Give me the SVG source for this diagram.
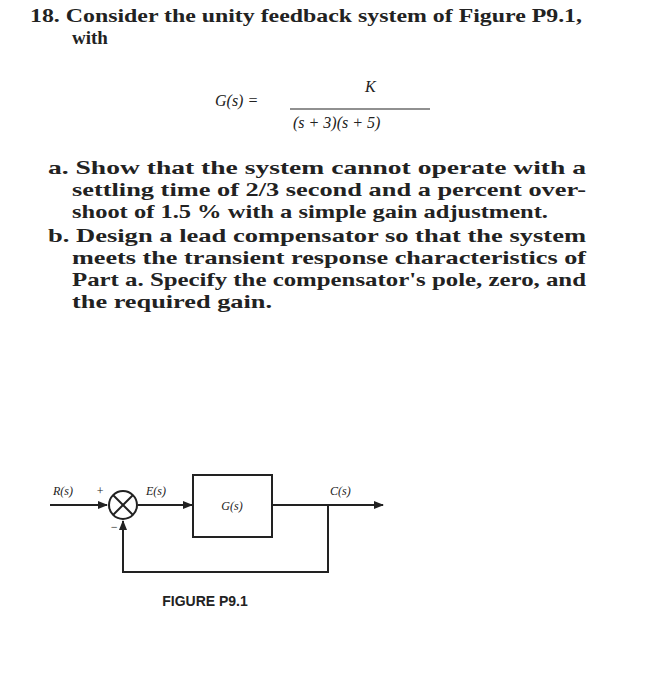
<svg xmlns="http://www.w3.org/2000/svg" width="648" height="700" viewBox="0 0 648 700">
<style>
.t{font-family:"Liberation Serif",serif;font-size:19px;font-weight:bold;fill:#222}
.m{font-family:"Liberation Serif",serif;font-size:16px;font-style:italic;fill:#222}
.s{font-family:"Liberation Serif",serif;font-size:12px;font-style:italic;fill:#222}
.ln{stroke:#222;stroke-width:2;fill:none}
</style>
<defs><marker id="a" markerWidth="10" markerHeight="8" refX="9" refY="4" orient="auto" markerUnits="userSpaceOnUse"><path d="M0,0L10,4L0,8z" fill="#222"/></marker></defs>
<rect width="648" height="700" fill="#fff"/>
<text class="t" x="30" y="22" textLength="552" lengthAdjust="spacingAndGlyphs">18. Consider the unity feedback system of Figure P9.1,</text>
<text class="t" x="72" y="44">with</text>
<text class="m" x="215" y="106">G(s) =</text>
<text class="m" x="365" y="92">K</text>
<line x1="290" y1="109" x2="430" y2="109" stroke="#222" stroke-width="1.2"/>
<text class="m" x="293" y="128">(s + 3)(s + 5)</text>
<g class="t">
<text x="48" y="174" textLength="538" lengthAdjust="spacingAndGlyphs">a. Show that the system cannot operate with a</text>
<text x="72" y="196" textLength="514" lengthAdjust="spacingAndGlyphs">settling time of 2/3 second and a percent over-</text>
<text x="72" y="218" textLength="476" lengthAdjust="spacingAndGlyphs">shoot of 1.5 % with a simple gain adjustment.</text>
<text x="48" y="242" textLength="538" lengthAdjust="spacingAndGlyphs">b. Design a lead compensator so that the system</text>
<text x="72" y="264" textLength="514" lengthAdjust="spacingAndGlyphs">meets the transient response characteristics of</text>
<text x="72" y="286" textLength="514" lengthAdjust="spacingAndGlyphs">Part a. Specify the compensator's pole, zero, and</text>
<text x="72" y="308" textLength="200" lengthAdjust="spacingAndGlyphs">the required gain.</text>
</g>
<g id="connectors">
<line class="ln" x1="50" y1="505" x2="107" y2="505" marker-end="url(#a)"/>
<line class="ln" x1="138" y1="505" x2="192" y2="505" marker-end="url(#a)"/>
<line class="ln" x1="272" y1="505" x2="383" y2="505" marker-end="url(#a)"/>
<polyline class="ln" points="328,505 328,572 123,572 123,521" marker-end="url(#a)"/>
</g>
<g id="sum">
<circle class="ln" cx="123" cy="505" r="14"/>
<line class="ln" x1="113" y1="495" x2="133" y2="515"/><line class="ln" x1="133" y1="495" x2="113" y2="515"/>
<text class="s" x="96" y="495">+</text><text class="s" x="110" y="531">−</text>
</g>
<g id="G"><rect class="ln" x="193" y="475" width="79" height="62"/><text class="s" x="232" y="510" text-anchor="middle">G(s)</text></g>
<text class="s" x="53" y="495">R(s)</text>
<text class="s" x="146" y="495">E(s)</text>
<text class="s" x="330" y="495">C(s)</text>
<text x="205" y="606" text-anchor="middle" font-family="Liberation Sans,sans-serif" font-size="14" font-weight="bold" fill="#222">FIGURE P9.1</text>
</svg>
